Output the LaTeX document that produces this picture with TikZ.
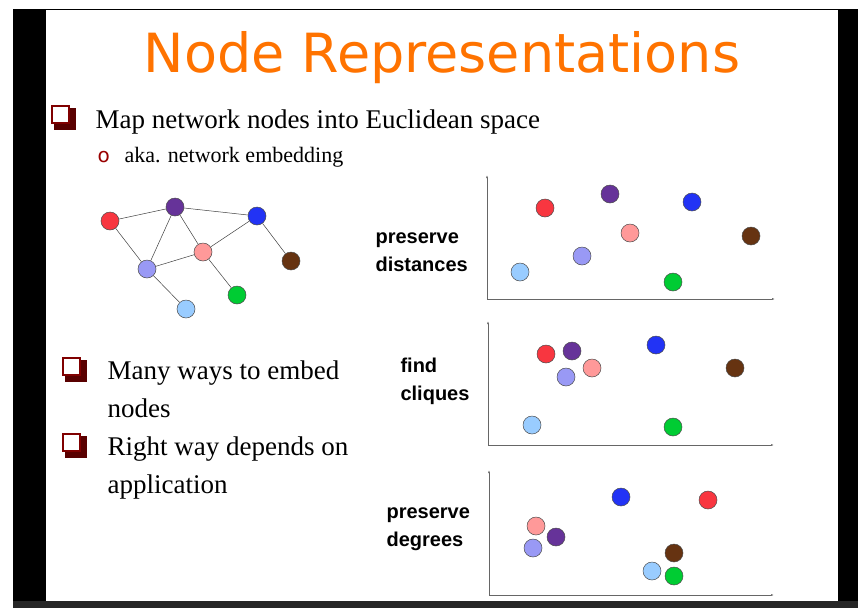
\documentclass[tikz,border=0pt]{standalone}
\usepackage{fontspec}
\setmainfont{Liberation Serif}
\newfontfamily\ttl{DejaVu Sans}
\newfontfamily\lab{Liberation Sans}
\begin{document}
\begin{tikzpicture}[x=1pt,y=-1pt,
 dot/.style={circle,draw=black!70,line width=0.5pt,minimum size=18pt,inner sep=0},
 ax/.style={draw=black!60,line width=0.8pt,-{Latex[length=3pt,width=2pt]}},
 lbl/.style={font=\lab\bfseries\fontsize{20}{28}\selectfont,align=left,anchor=west},
 body/.style={font=\fontsize{27}{38}\selectfont,anchor=base west},
 bul/.style={draw=red!50!black,fill=white,line width=2pt,minimum size=17pt,inner sep=0}]
\usetikzlibrary{arrows.meta}
\definecolor{cR}{HTML}{F83640}\definecolor{cP}{HTML}{663399}\definecolor{cB}{HTML}{2233F5}
\definecolor{cK}{HTML}{FF9999}\definecolor{cL}{HTML}{9999F5}\definecolor{cG}{HTML}{00CC33}
\definecolor{cN}{HTML}{663311}\definecolor{cS}{HTML}{99CCFF}
\useasboundingbox (0,0) rectangle (858,608);
\fill[white] (0,0) rectangle (858,608);
\fill[black] (13,9) rectangle (46,608);
\fill[black] (838,9) rectangle (858,608);
\draw[black,line width=0.8pt] (13,9) -- (858,9);
\fill[black!85] (13,601) rectangle (858,608);
\node[font=\ttl\fontsize{54}{60}\selectfont,text=orange!90!red,anchor=base] (title) at (442,72) {Node Representations};
% bullets
\fill[red!35!black] (54,108) rectangle (76,130);
\node[bul,anchor=north west] (b1) at (51,105) {};
\node[body] (t1) at (92,128) {Map network nodes into Euclidean space};
\node[font=\ttl\fontsize{20}{24}\selectfont,text=red!60!black,anchor=base west] (o1) at (94,162) {o};
\node[font=\fontsize{22}{28}\selectfont,anchor=base west] (t2) at (121,162) {aka. network embedding};
\fill[red!35!black] (65,360) rectangle (87,382);
\node[bul,anchor=north west] (b2) at (62,357) {};
\node[body] (t3) at (104,379) {Many ways to embed};
\node[body] (t4) at (104,417) {nodes};
\fill[red!35!black] (65,436) rectangle (87,458);
\node[bul,anchor=north west] (b3) at (62,433) {};
\node[body] (t5) at (104,455) {Right way depends on};
\node[body] (t6) at (104,493) {application};
% graph
\node[dot,fill=cR] (r) at (110,221) {};
\node[dot,fill=cP] (p) at (175,207) {};
\node[dot,fill=cB] (b) at (257,216) {};
\node[dot,fill=cK] (k) at (203,252) {};
\node[dot,fill=cL] (l) at (147,269) {};
\node[dot,fill=cG] (g) at (237,295) {};
\node[dot,fill=cN] (n) at (291,261) {};
\node[dot,fill=cS] (s) at (186,309) {};
\draw[black!75,line width=0.5pt] (r)--(p) (r)--(l) (p)--(l) (p)--(k) (p)--(b) (b)--(k) (b)--(n) (k)--(l) (k)--(g) (l)--(s);
% plot 1
\coordinate (o1a) at (487,299);
\draw[ax] (o1a) -- (487,175) coordinate (y1);
\draw[ax] (o1a) -- (775,299) coordinate (x1);
\node[lbl] (L1) at (372,252) {preserve\\distances};
\node[dot,fill=cR] at (545,208) {};
\node[dot,fill=cP] at (610,194) {};
\node[dot,fill=cB] at (692,202) {};
\node[dot,fill=cK] at (630,233) {};
\node[dot,fill=cN] at (751,236) {};
\node[dot,fill=cL] at (582,256) {};
\node[dot,fill=cS] at (520,272) {};
\node[dot,fill=cG] at (673,282) {};
% plot 2
\coordinate (o2a) at (488,445);
\draw[ax] (o2a) -- (488,321) coordinate (y2);
\draw[ax] (o2a) -- (774,445) coordinate (x2);
\node[lbl] (L2) at (397,381) {find\\cliques};
\node[dot,fill=cR] at (546,354) {};
\node[dot,fill=cP] at (572,351) {};
\node[dot,fill=cB] at (656,345) {};
\node[dot,fill=cK] at (592,368) {};
\node[dot,fill=cL] at (566,377) {};
\node[dot,fill=cN] at (735,368) {};
\node[dot,fill=cS] at (532,425) {};
\node[dot,fill=cG] at (673,427) {};
% plot 3
\coordinate (o3a) at (489,595);
\draw[ax] (o3a) -- (489,470) coordinate (y3);
\draw[ax] (o3a) -- (774,595) coordinate (x3);
\node[lbl] (L3) at (383,529) {preserve\\degrees};
\node[dot,fill=cB] at (621,497) {};
\node[dot,fill=cR] at (708,500) {};
\node[dot,fill=cK] at (536,526) {};
\node[dot,fill=cP] at (556,537) {};
\node[dot,fill=cL] at (533,548) {};
\node[dot,fill=cN] at (674,553) {};
\node[dot,fill=cS] at (652,571) {};
\node[dot,fill=cG] at (674,576) {};
\end{tikzpicture}
\end{document}
